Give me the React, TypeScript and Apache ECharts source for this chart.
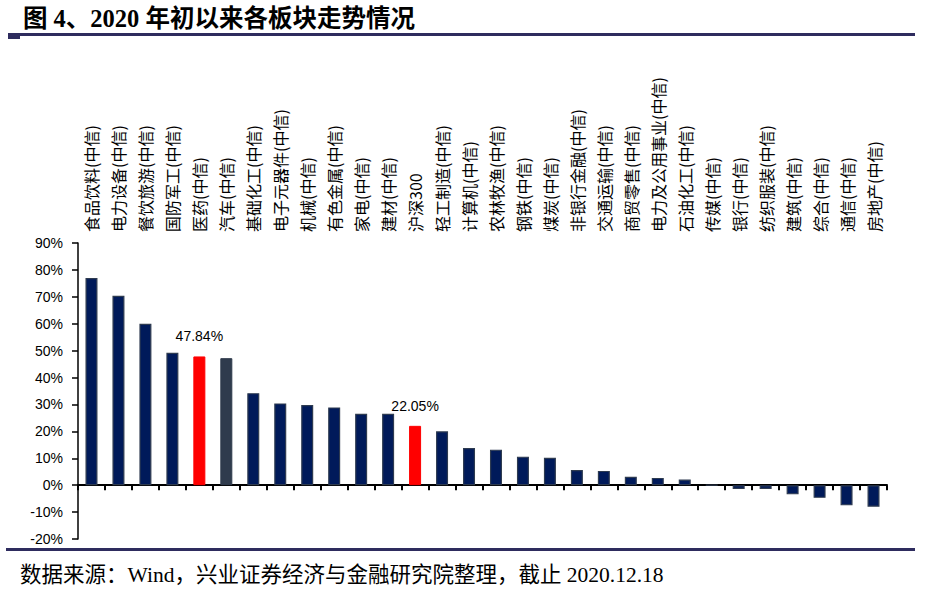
import React, { useEffect, useRef } from "react";
import * as echarts from "echarts";

const categories = [
  "食品饮料(中信)", "电力设备(中信)", "餐饮旅游(中信)", "国防军工(中信)", "医药(中信)",
  "汽车(中信)", "基础化工(中信)", "电子元器件(中信)", "机械(中信)", "有色金属(中信)",
  "家电(中信)", "建材(中信)", "沪深300", "轻工制造(中信)", "计算机(中信)",
  "农林牧渔(中信)", "钢铁(中信)", "煤炭(中信)", "非银行金融(中信)", "交通运输(中信)",
  "商贸零售(中信)", "电力及公用事业(中信)", "石油化工(中信)", "传媒(中信)", "银行(中信)",
  "纺织服装(中信)", "建筑(中信)", "综合(中信)", "通信(中信)", "房地产(中信)",
];

const values = [
  77.0, 70.4, 60.0, 49.2, 47.84,
  47.2, 34.2, 30.4, 29.8, 28.9,
  26.5, 26.5, 22.05, 20.0, 13.8,
  13.2, 10.6, 10.2, 5.6, 5.3,
  3.1, 2.7, 2.1, 0, -1.4,
  -1.4, -3.4, -4.7, -7.5, -8.0,
];

const redBars = ["医药(中信)", "沪深300"];
const grayBars = ["汽车(中信)"];

const yTicks = { min: -20, max: 90, interval: 10 };

const titleText = "图 4、2020 年初以来各板块走势情况";
const footerText = "数据来源：Wind，兴业证券经济与金融研究院整理，截止 2020.12.18";

export default function App() {
  const ref = useRef<HTMLDivElement>(null);

  useEffect(() => {
    if (!ref.current) return;
    const chart = echarts.init(ref.current, undefined, { renderer: "svg" });

    const data = categories.map((c, i) => {
      const v = values[i];
      if (redBars.includes(c)) {
        return {
          value: v,
          itemStyle: { color: "#ff0000", borderColor: "#ff0000", borderWidth: 1 },
          label: {
            show: true,
            position: "top",
            distance: 13,
            formatter: (p: any) => Number(p.value).toFixed(2) + "%",
            fontSize: 14,
            color: "#000",
            fontFamily: "Liberation Sans, Arial, sans-serif",
          },
        };
      }
      if (grayBars.includes(c)) {
        return { value: v, itemStyle: { color: "#2f3b4d", borderColor: "#2f3b4d", borderWidth: 1 } };
      }
      return { value: v };
    });

    chart.setOption({
      animation: false,
      backgroundColor: "#ffffff",
      grid: { left: 78, right: 50, top: 243, bottom: 54, containLabel: false, outerBoundsMode: "none" },
      xAxis: [
        {
          type: "category",
          data: categories,
          position: "bottom",
          boundaryGap: true,
          axisLine: { show: true, onZero: true, lineStyle: { color: "#000", width: 2 } },
          axisTick: { show: true, interval: 0, length: 5, lineStyle: { color: "#000", width: 2 } },
          axisLabel: { show: false },
          splitLine: { show: false },
        },
        {
          type: "category",
          data: categories,
          position: "top",
          boundaryGap: true,
          axisLine: { show: false },
          axisTick: { show: false },
          axisLabel: {
            show: true,
            interval: 0,
            rotate: -90,
            margin: 11,
            fontSize: 16,
            color: "#000",
            fontFamily: "Noto Sans CJK SC, sans-serif",
          },
          splitLine: { show: false },
        },
      ],
      yAxis: {
        type: "value",
        min: yTicks.min,
        max: yTicks.max,
        interval: yTicks.interval,
        axisLine: { show: true, lineStyle: { color: "#000", width: 1.5 } },
        axisTick: { show: true, length: 6, lineStyle: { color: "#000", width: 1.5 } },
        axisLabel: {
          formatter: "{value}%",
          fontSize: 14,
          color: "#000",
          margin: 15,
          fontFamily: "Liberation Sans, Arial, sans-serif",
        },
        splitLine: { show: false },
      },
      series: [
        {
          type: "bar",
          xAxisIndex: 0,
          data,
          barWidth: 12,
          itemStyle: { color: "#001a5a", borderColor: "#2e3b50", borderWidth: 1.2 },
        },
      ],
      graphic: [
        {
          type: "text",
          left: 23,
          top: 6,
          style: {
            text: titleText,
            fontSize: 24.5,
            fontWeight: "bold",
            fill: "#000",
            fontFamily: "Liberation Serif, Times New Roman, Noto Sans CJK SC, serif",
          },
        },
        {
          type: "rect",
          shape: { x: 8, y: 33, width: 907, height: 3 },
          style: { fill: "#2e2c5e" },
        },
        {
          type: "rect",
          shape: { x: 8, y: 33, width: 12, height: 6 },
          style: { fill: "#2e2c5e" },
        },
        {
          type: "rect",
          shape: { x: 6, y: 548, width: 909, height: 3 },
          style: { fill: "#2e2c5e" },
        },
        {
          type: "text",
          left: 20,
          top: 564,
          style: {
            text: footerText,
            fontSize: 21.5,
            fill: "#000",
            fontFamily: "Liberation Serif, Times New Roman, Noto Sans CJK SC, serif",
          },
        },
      ],
    });

    return () => chart.dispose();
  }, []);

  return (
    <div
      ref={ref}
      style={{ position: "fixed", left: 0, top: 0, width: 937, height: 593, background: "#fff" }}
    />
  );
}
